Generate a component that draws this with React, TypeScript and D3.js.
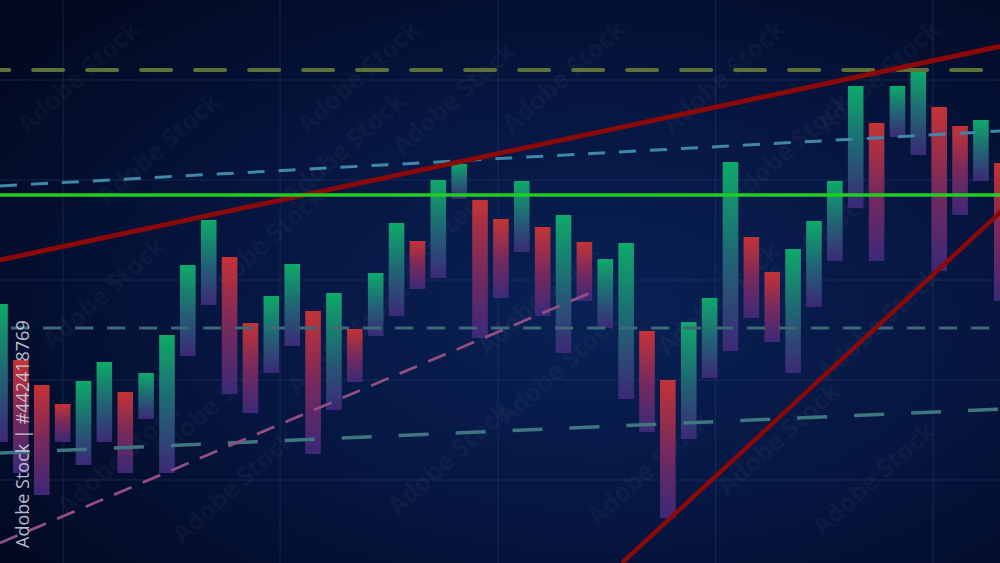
import React from "react";
import * as d3 from "d3";

const W = 1000;
const H = 563;

// candle data (price units), index 0..48
const opens = [121, 203, 178, 159, 98, 121, 171, 144, 90, 207, 258, 306, 240, 190, 217, 252, 153, 234, 227, 247, 322, 285, 364, 363, 344, 311, 336, 210, 321, 235, 164, 232, 183, 124, 185, 212, 326, 291, 190, 256, 302, 355, 440, 426, 408, 456, 437, 382, 400];
const closes = [259, 90, 68, 121, 182, 201, 90, 190, 228, 298, 343, 169, 150, 267, 299, 109, 270, 181, 290, 340, 274, 383, 399, 225, 265, 382, 247, 348, 262, 304, 320, 131, 45, 241, 265, 401, 245, 221, 314, 342, 382, 477, 302, 477, 492, 292, 348, 443, 262];

// grid ticks
const gridPrices = [483, 383, 283, 183, 83];
const gridIdx = [3.02, 13.42, 23.86, 34.28, 44.7];

// drawn study lines: [x0 idx, p0, x1 idx, p1]
const oliveLine = [-1, 493, 49, 493];
const blueLine = [0, 377, 48, 432];
const greenLine = [-1, 368, 49, 368];
const redUpper = [0, 303, 48, 517];
const redLower = [29.8, 0, 48, 352];
const greyLine = [-1, 235, 49, 235];
const tealLine = [0, 110, 48, 154];
const pinkLine = [0, 20, 28.6, 273];

const watermarks: [number, number][] = [
  [80, 78], [160, 150], [265, 245], [105, 295], [215, 405], [120, 460], [235, 488],
  [345, 150], [455, 100], [565, 78], [430, 245], [540, 300], [450, 460], [560, 370],
  [650, 470], [725, 78], [790, 150], [880, 78], [720, 300], [830, 230],
  [880, 325], [780, 440], [875, 480], [350, 340], [360, 78],
];

export default function App() {
  const x = d3.scaleLinear().domain([0, 48]).range([0, 1001.8]);
  const y = d3.scaleLinear().domain([0, 563]).range([563, 0]);
  const bw = 15.6;

  const seg = (l: number[]) => ({ x1: x(l[0]), y1: y(l[1]), x2: x(l[2]), y2: y(l[3]) });

  return (
    <svg
      width={W}
      height={H}
      style={{ position: "absolute", left: 0, top: 0, display: "block" }}
      fontFamily="'Open Sans', 'DejaVu Sans', sans-serif"
    >
      <defs>
        <radialGradient id="bg" cx="0.6" cy="0.55" r="0.75">
          <stop offset="0" stopColor="#092155" />
          <stop offset="0.5" stopColor="#061641" />
          <stop offset="1" stopColor="#020920" />
        </radialGradient>
        <linearGradient id="gUp" x1="0" y1="0" x2="0" y2="1">
          <stop offset="0" stopColor="#0fb26c" />
          <stop offset="0.5" stopColor="#226a78" />
          <stop offset="1" stopColor="#3f2a7a" />
        </linearGradient>
        <linearGradient id="gDown" x1="0" y1="0" x2="0" y2="1">
          <stop offset="0" stopColor="#cf3535" />
          <stop offset="0.5" stopColor="#7e2b5e" />
          <stop offset="1" stopColor="#3f2a7c" />
        </linearGradient>
        <filter id="glow" x="-10%" y="-200%" width="120%" height="500%">
          <feGaussianBlur stdDeviation="3" />
        </filter>
      </defs>

      <rect x={0} y={0} width={W} height={H} fill="url(#bg)" />

      {/* grid */}
      <g stroke="#2a3d70" strokeOpacity={0.45} strokeWidth={1}>
        {gridPrices.map((p) => (
          <line key={"h" + p} x1={0} x2={W} y1={y(p)} y2={y(p)} />
        ))}
        {gridIdx.map((i) => (
          <line key={"v" + i} x1={x(i)} x2={x(i)} y1={0} y2={H} />
        ))}
      </g>

      {/* watermark */}
      <g fill="#ffffff" fillOpacity={0.05} fontSize={25} fontWeight={700}>
        {watermarks.map(([cx, cy], k) => (
          <text key={k} x={cx} y={cy} textAnchor="middle" dominantBaseline="middle" transform={`rotate(-42 ${cx} ${cy})`}>
            Adobe Stock
          </text>
        ))}
      </g>

      {/* candles */}
      <g opacity={0.95}>
        {opens.map((o, i) => {
          const c = closes[i];
          const up = c >= o;
          const top = y(Math.max(o, c));
          const bot = y(Math.min(o, c));
          return (
            <rect
              key={i}
              x={x(i) - bw / 2}
              y={top}
              width={bw}
              height={bot - top}
              fill={up ? "url(#gUp)" : "url(#gDown)"}
            />
          );
        })}
      </g>

      {/* study lines */}
      <line {...seg(oliveLine)} stroke="#5d7236" strokeWidth={4} strokeDasharray="30 24" strokeLinecap="round" />
      <line {...seg(blueLine)} stroke="#3f88aa" strokeWidth={3} strokeDasharray="17 14" />
      <line {...seg(greyLine)} stroke="#3f6878" strokeWidth={3} strokeDasharray="18 14" />
      <line {...seg(tealLine)} stroke="#3f7680" strokeWidth={3.5} strokeDasharray="30 27" />
      <line {...seg(pinkLine)} stroke="#8f4f80" strokeWidth={2.8} strokeDasharray="19 12" />
      <line {...seg(redUpper)} stroke="#8c0909" strokeWidth={5} />
      <line {...seg(redLower)} stroke="#8c0909" strokeWidth={4.5} />
      <line {...seg(greenLine)} stroke="#20e040" strokeWidth={8} strokeOpacity={0.35} filter="url(#glow)" />
      <line {...seg(greenLine)} stroke="#22cc22" strokeWidth={3.5} />

      {/* id text */}
      <text
        transform="translate(29,548) rotate(-90)"
        fontSize={18}
        fill="#d4d8e2"
        fillOpacity={0.88}
      >
        Adobe Stock | #442418769
      </text>
    </svg>
  );
}
